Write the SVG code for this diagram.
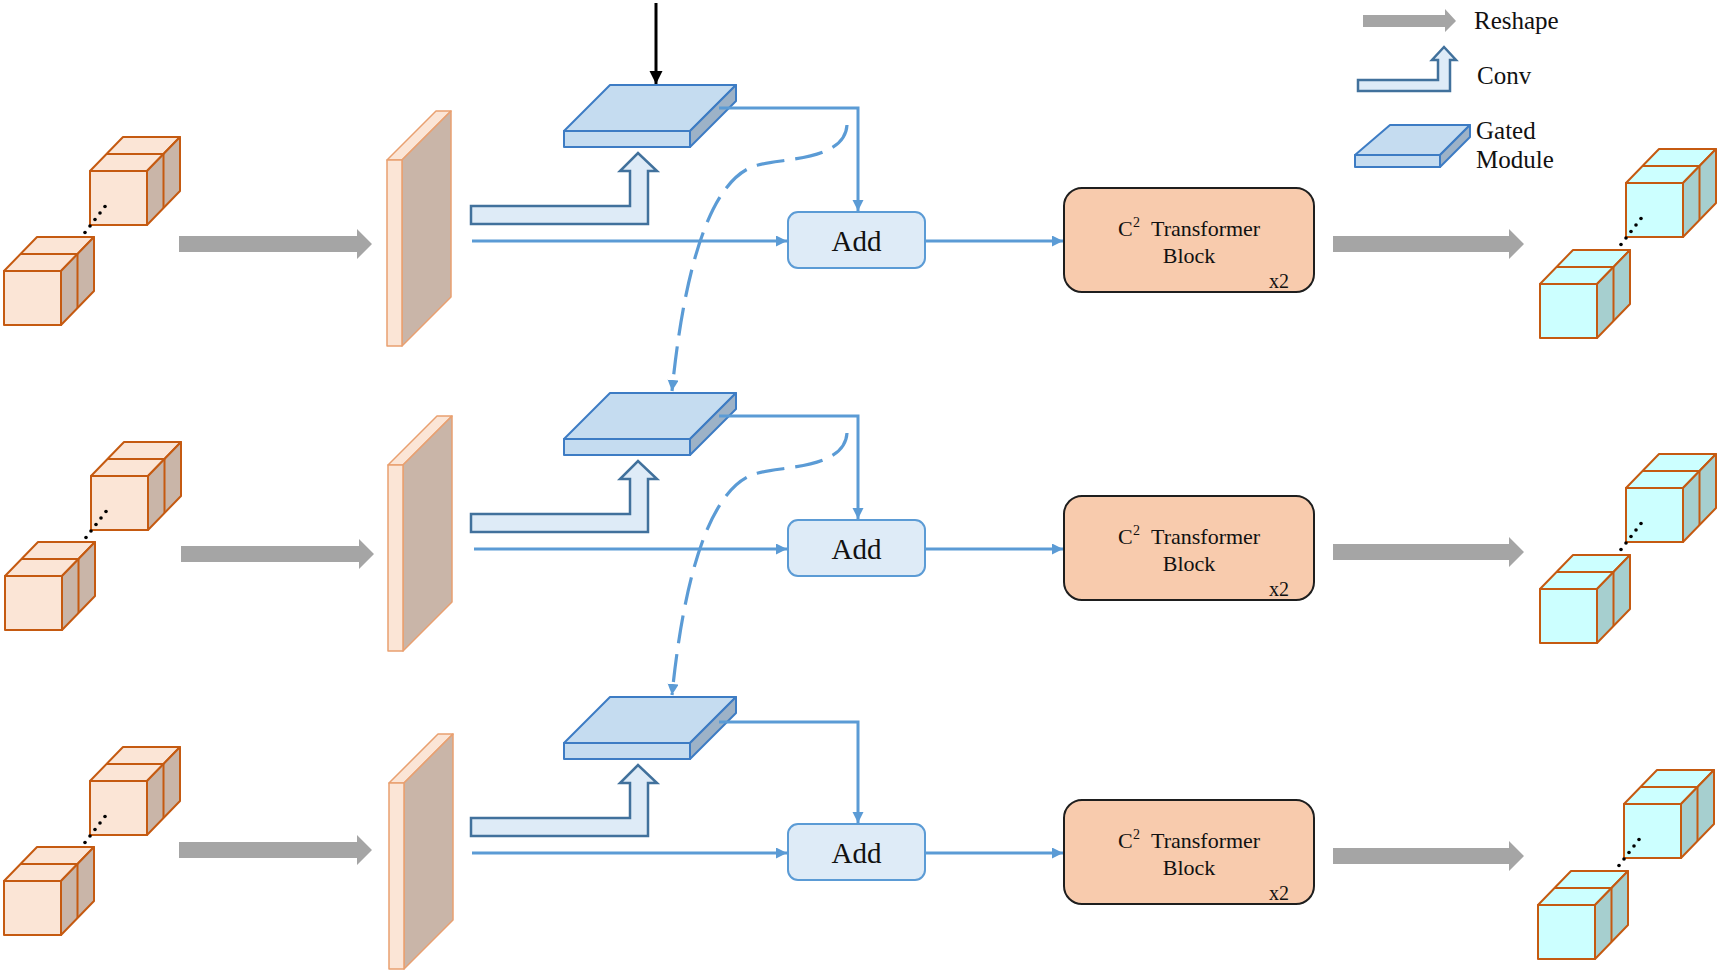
<svg xmlns="http://www.w3.org/2000/svg" xmlns:xlink="http://www.w3.org/1999/xlink" width="1720" height="974" viewBox="0 0 1720 974">
<style>
.cf{fill:#FBE5D6;stroke:#C55A11;stroke-width:2;stroke-linejoin:round}
.cs{fill:#C9B5A8;stroke:#C55A11;stroke-width:2;stroke-linejoin:round}
.rf{fill:#CCFFFF;stroke:#C55A11;stroke-width:2;stroke-linejoin:round}
.rs{fill:#A6CFCF;stroke:#C55A11;stroke-width:2;stroke-linejoin:round}
.ml{fill:none;stroke:#C55A11;stroke-width:2}
.pf{fill:#FBE5D6;stroke:#E9A070;stroke-width:1.5;stroke-linejoin:round}
.ps{fill:#C9B5A8;stroke:#E9A070;stroke-width:1.5;stroke-linejoin:round}
.gt{fill:#C5DCF0;stroke:#3D7CC4;stroke-width:2;stroke-linejoin:round}
.gs{fill:#9DB2C7;stroke:#3D7CC4;stroke-width:2;stroke-linejoin:round}
.conv{fill:#DEEBF7;stroke:#41719C;stroke-width:2.5;stroke-linejoin:miter}
.gray{fill:#A5A5A5}
.ln{fill:none;stroke:#5B9BD5;stroke-width:3}
.dash{fill:none;stroke:#5B9BD5;stroke-width:3.2;stroke-dasharray:28 11}
.add{fill:#DEEBF7;stroke:#5B9BD5;stroke-width:2}
.tb{fill:#F8CBAD;stroke:#1E1E1E;stroke-width:2}
.t{font-family:"Liberation Serif","Times New Roman",serif;fill:#111}
</style>
<defs>
<marker id="ab" markerUnits="userSpaceOnUse" markerWidth="12" markerHeight="12" refX="11" refY="5.5" orient="auto"><path d="M0,0 L11,5.5 L0,11 Z" fill="#5B9BD5"/></marker>
<marker id="ak" markerUnits="userSpaceOnUse" markerWidth="14" markerHeight="14" refX="13" refY="6.5" orient="auto"><path d="M0,0 L13,6.5 L0,13 Z" fill="#000"/></marker>
<g id="cubeL">
<rect class="cf" x="0" y="0" width="57" height="54"/>
<polygon class="cf" points="0,0 33,-34 90,-34 57,0"/>
<polygon class="cs" points="57,0 90,-34 90,20 57,54"/>
<path class="ml" d="M16.5,-17 H73.5 V37"/>
</g>
<g id="cubeR">
<rect class="rf" x="0" y="0" width="57" height="54"/>
<polygon class="rf" points="0,0 33,-34 90,-34 57,0"/>
<polygon class="rs" points="57,0 90,-34 90,20 57,54"/>
<path class="ml" d="M16.5,-17 H73.5 V37"/>
</g>
<g id="dots" fill="#000">
<circle cx="-5" cy="7.5" r="1.8"/><circle cx="0" cy="1" r="1.8"/><circle cx="5" cy="-5.5" r="1.8"/><circle cx="10" cy="-12" r="1.8"/><circle cx="15" cy="-18.5" r="1.8"/>
</g>
<g id="pairL"><use xlink:href="#cubeL"/><use xlink:href="#cubeL" x="-86" y="100"/><use xlink:href="#dots" y="54"/></g>
<g id="pairR"><use xlink:href="#cubeR"/><use xlink:href="#cubeR" x="-86" y="101"/><use xlink:href="#dots" y="54"/></g>
<g id="panel">
<polygon class="pf" points="0,0 49,-49 64,-49 15,0"/>
<polygon class="ps" points="15,0 64,-49 64,137 15,186"/>
<rect class="pf" x="0" y="0" width="15" height="186"/>
</g>
<g id="gm">
<polygon class="gt" points="564,131 610,85 736,85 690,131"/>
<rect class="gt" x="564" y="131" width="126" height="16"/>
<polygon class="gs" points="690,131 736,85 736,101 690,147"/>
</g>
<path id="convA" class="conv" d="M471,206 H630 V171 H620 L638,153 L657,171 H648 V224 H471 Z"/>
<path id="grayL" class="gray" d="M0,-8 H178 V-15 L193,0 L178,15 V8 H0 Z"/>
</defs>

<!-- input cube stacks -->
<g id="in1"><use xlink:href="#pairL" transform="translate(90,171)"/></g>
<g id="in2"><use xlink:href="#pairL" transform="translate(91,476)"/></g>
<g id="in3"><use xlink:href="#pairL" transform="translate(90,781)"/></g>

<!-- panels -->
<g id="panel1"><use xlink:href="#panel" transform="translate(387,160)"/></g>
<g id="panel2"><use xlink:href="#panel" transform="translate(388,465)"/></g>
<g id="panel3"><use xlink:href="#panel" transform="translate(389,783)"/></g>

<!-- output cube stacks -->
<g id="out1"><use xlink:href="#pairR" transform="translate(1626,183)"/></g>
<g id="out2"><use xlink:href="#pairR" transform="translate(1626,488)"/></g>
<g id="out3"><use xlink:href="#pairR" transform="translate(1624,804)"/></g>

<!-- conv arrows -->
<g id="conv1"><use xlink:href="#convA"/></g>
<g id="conv2"><use xlink:href="#convA" y="308"/></g>
<g id="conv3"><use xlink:href="#convA" y="612"/></g>

<!-- gated modules -->
<g id="gate1"><use xlink:href="#gm"/></g>
<g id="gate2"><use xlink:href="#gm" y="308"/></g>
<g id="gate3"><use xlink:href="#gm" y="612"/></g>

<!-- add boxes -->
<g id="add1"><rect class="add" x="788" y="212" width="137" height="56" rx="10"/><text class="t" x="856.5" y="251" font-size="29" text-anchor="middle">Add</text></g>
<g id="add2"><rect class="add" x="788" y="520" width="137" height="56" rx="10"/><text class="t" x="856.5" y="559" font-size="29" text-anchor="middle">Add</text></g>
<g id="add3"><rect class="add" x="788" y="824" width="137" height="56" rx="10"/><text class="t" x="856.5" y="863" font-size="29" text-anchor="middle">Add</text></g>

<!-- transformer blocks -->
<g id="tb1"><rect class="tb" x="1064" y="188" width="250" height="104" rx="18"/>
<text class="t" x="1118" y="236" font-size="22">C</text><text class="t" x="1133" y="227" font-size="14">2</text><text class="t" x="1151" y="236" font-size="22">Transformer</text>
<text class="t" x="1189" y="263" font-size="22" text-anchor="middle">Block</text>
<text class="t" x="1269" y="288" font-size="20">x2</text></g>
<g id="tb2"><rect class="tb" x="1064" y="496" width="250" height="104" rx="18"/>
<text class="t" x="1118" y="544" font-size="22">C</text><text class="t" x="1133" y="535" font-size="14">2</text><text class="t" x="1151" y="544" font-size="22">Transformer</text>
<text class="t" x="1189" y="571" font-size="22" text-anchor="middle">Block</text>
<text class="t" x="1269" y="596" font-size="20">x2</text></g>
<g id="tb3"><rect class="tb" x="1064" y="800" width="250" height="104" rx="18"/>
<text class="t" x="1118" y="848" font-size="22">C</text><text class="t" x="1133" y="839" font-size="14">2</text><text class="t" x="1151" y="848" font-size="22">Transformer</text>
<text class="t" x="1189" y="875" font-size="22" text-anchor="middle">Block</text>
<text class="t" x="1269" y="900" font-size="20">x2</text></g>

<!-- connectors -->
<g id="connectors">
<use xlink:href="#grayL" transform="translate(179,244)"/>
<use xlink:href="#grayL" transform="translate(181,554)"/>
<use xlink:href="#grayL" transform="translate(179,850)"/>
<path class="gray" d="M1333,236 H1509 V229 L1524,244 L1509,259 V252 H1333 Z"/>
<path class="gray" d="M1333,544 H1509 V537 L1524,552 L1509,567 V560 H1333 Z"/>
<path class="gray" d="M1333,848 H1509 V841 L1524,856 L1509,871 V864 H1333 Z"/>

<line x1="656" y1="3" x2="656" y2="84" stroke="#000" stroke-width="3" marker-end="url(#ak)"/>

<path class="ln" d="M472,241 H787" marker-end="url(#ab)"/>
<path class="ln" d="M719,108 H858 V211" marker-end="url(#ab)"/>
<path class="ln" d="M925,241 H1063" marker-end="url(#ab)"/>
<path class="dash" d="M847,125 C845,160 785,158 758,165 C705,178 682,290 672,391" marker-end="url(#ab)"/>

<path class="ln" d="M474,549 H787" marker-end="url(#ab)"/>
<path class="ln" d="M719,416 H858 V519" marker-end="url(#ab)"/>
<path class="ln" d="M925,549 H1063" marker-end="url(#ab)"/>
<path class="dash" d="M847,433 C845,468 785,466 758,473 C705,486 682,596 672,695" marker-end="url(#ab)"/>

<path class="ln" d="M472,853 H787" marker-end="url(#ab)"/>
<path class="ln" d="M719,722 H858 V823" marker-end="url(#ab)"/>
<path class="ln" d="M925,853 H1063" marker-end="url(#ab)"/>
</g>

<!-- legend -->
<g id="legend">
<path class="gray" d="M1363,15 H1445 V9 L1456,21 L1445,32 V27 H1363 Z"/>
<text class="t" x="1474" y="29" font-size="25">Reshape</text>
<path class="conv" stroke-width="2" d="M1358,80 H1438 V60 H1432 L1444,47 L1456,60 H1450 V91 H1358 Z"/>
<text class="t" x="1477" y="84" font-size="25">Conv</text>
<polygon class="gt" points="1355,155 1390,125 1470,125 1440,155"/>
<rect class="gt" x="1355" y="155" width="85" height="12"/>
<polygon class="gs" points="1440,155 1470,125 1470,137 1440,167"/>
<text class="t" x="1476" y="139" font-size="25">Gated</text>
<text class="t" x="1476" y="168" font-size="25">Module</text>
</g>
</svg>
